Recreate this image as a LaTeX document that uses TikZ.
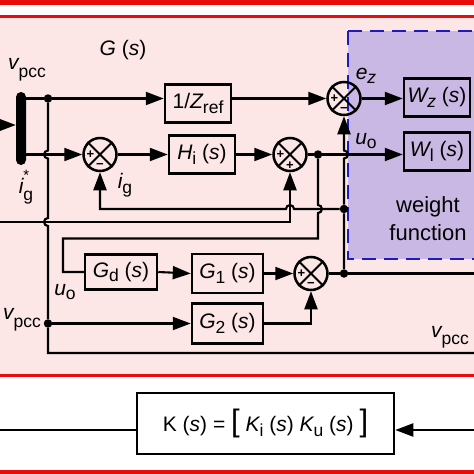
\documentclass[tikz,border=0pt]{standalone}
\usepackage{fontspec}
\setmainfont{Liberation Sans}
\usetikzlibrary{arrows.meta,calc}
\definecolor{pinkbg}{RGB}{252,230,230}
\definecolor{purp}{RGB}{201,184,227}
\definecolor{redl}{RGB}{232,12,12}
\definecolor{blued}{RGB}{28,28,190}
\newcommand{\sbs}[2][0.22em]{\raisebox{-#1}{\fontsize{17.5}{17.5}\selectfont #2}}
\newcommand{\iv}[1]{{\itshape #1}}
\newcommand{\sumj}[4]{%
  \node[sumn] (#1) at (#2) {};
  \draw[line width=2pt] (#1.45) -- (#1.225) (#1.135) -- (#1.315);
  \node[sgn] at ($(#1.center)+(-9.5,0)$) {#3};
  \node[sgn] at ($(#1.center)+(0,11)$) {#4};
}
\begin{document}
\begin{tikzpicture}[x=1pt,y=-1pt,
  ln/.style={line width=2.1pt},
  arr/.style={line width=2.1pt,-{Triangle[length=18pt,width=13pt]}},
  blk/.style={draw,line width=2.5pt,minimum width=66pt,minimum height=38pt,inner sep=0pt,font=\fontsize{21}{21}\selectfont},
  sumn/.style={circle,draw,line width=2.5pt,minimum size=33pt,inner sep=0pt},
  dotn/.style={circle,fill=black,minimum size=8.5pt,inner sep=0pt},
  muxbar/.style={fill=black,rounded corners=5pt,minimum width=10pt,minimum height=73pt,inner sep=0pt},
  lbl/.style={inner sep=0pt,font=\fontsize{21}{21}\selectfont},
  sgn/.style={inner sep=0pt,font=\fontsize{13}{13}\selectfont\bfseries}]
\useasboundingbox (0,0) rectangle (474,474);
\clip (0,0) rectangle (474,474);
% background
\fill[white] (0,0) rectangle (474,474);
\fill[redl] (0,0) rectangle (474,4.5);
\fill[pinkbg] (0,17.5) rectangle (474,374.5);
\draw[redl,line width=2.2pt] (0,16.5) -- (474,16.5);
\draw[redl,line width=2.5pt] (0,375.5) -- (474,375.5);
\fill[redl] (0,469.5) rectangle (474,474);
\draw[blued,fill=purp,line width=2.5pt,dash pattern=on 14pt off 8pt] (348,31) rectangle (490,259);

% nodes
\node[muxbar] (mux) at (21,128.5) {};
\node[dotn] (d1) at (48,98.5) {};
\node[blk] (zref) at (198,103.5) {1/\iv{Z}\sbs{ref}};
\sumj{sez}{344,98.5}{+}{−}
\node[blk] (wz) at (437,97.5) {\iv{W}\sbs{\iv{z}} (\iv{s})};
\sumj{s1}{100,154.5}{+}{−}
\node[blk] (hi) at (202,154.5) {\iv{H}\sbs{i} (\iv{s})};
\sumj{s2}{290,154.5}{+}{+}
\node[dotn] (d2) at (318,154.5) {};
\node[blk] (wl) at (437,151.5) {\iv{W}\sbs{l} (\iv{s})};
\node[dotn] (d3) at (344,209) {};
\node[dotn] (d4) at (344,273.5) {};
\sumj{s3}{311,273.5}{+}{−}
\node[blk,minimum width=72pt,minimum height=35pt] (gd) at (121,272) {\iv{G}\sbs{d} (\iv{s})};
\node[blk,minimum width=71pt,minimum height=39pt] (g1) at (227.5,273.5) {\iv{G}\sbs{1} (\iv{s})};
\node[blk,minimum width=71pt,minimum height=40pt] (g2) at (227.5,323.5) {\iv{G}\sbs{2} (\iv{s})};
\node[dotn] (d5) at (48,323.5) {};
\node[blk,minimum width=257pt,minimum height=61pt] (kbox) at (265.5,423.5)
  {K (\iv{s}) = {\fontsize{31}{31}\selectfont[} \iv{K}\sbs{i} (\iv{s}) \iv{K}\sbs{u} (\iv{s}) {\fontsize{31}{31}\selectfont]}};

\coordinate (inL) at (0,125);
\coordinate (h2L) at (0,222);
\coordinate (uoc) at (63,238.5);
\coordinate (uout) at (474,273.5);
\coordinate (vout) at (474,353);
\coordinate (kL) at (0,430);
\coordinate (kR) at (474,430);

% labels
\node[lbl] (Gs) at (123,50) {\iv{G} (\iv{s})};
\node[lbl] (vp1) at (27,70) {\iv{v}\sbs[0.4em]{pcc}};
\node[lbl] (igs) at (26,187) {\iv{i}\rlap{\raisebox{0.62em}{\fontsize{15}{15}\selectfont *}}\sbs[0.3em]{g}};
\node[lbl] (ig) at (125,185) {\iv{i}\sbs{g}};
\node[lbl] (ez) at (366,76) {\iv{e}\sbs{\iv{z}}};
\node[lbl] (uo1) at (366,141) {\iv{u}\sbs{o}};
\node[lbl] (uo2) at (65,292) {\iv{u}\sbs{o}};
\node[lbl] (vp2) at (22,320) {\iv{v}\sbs[0.4em]{pcc}};
\node[lbl] (vp3) at (450,337) {\iv{v}\sbs[0.35em]{pcc}};
\node[lbl,font=\fontsize{22}{28}\selectfont,align=center] (wf) at (428,219) {weight\\function};

% connectors
\draw[arr] (inL) -- (mux.west |- inL);
\draw[ln] (mux.east |- d1) -- (d1);
\draw[arr] (d1) -- (zref.west |- d1);
\draw[arr] (zref.east |- d1) -- (sez.west);
\draw[arr] (sez.east) -- (wz.west |- sez);
\draw[arr] (mux.east |- s1) -- (s1.west);
\draw[arr] (s1.east) -- (hi.west);
\draw[arr] (hi.east) -- (s2.west);
\draw[ln] (s2.east) -- (d2);
\draw[arr] (d2) -- (wl.west |- d2);
\draw[arr] (d4) -- (d3) -- ($(d3 |- d2)+(0,4)$) arc[start angle=-90,end angle=90,radius=4pt] -- (sez.south);
\draw[arr] (d3) -- ($(s2 |- d3)+(4,0)$) arc[start angle=0,end angle=180,radius=4pt] -- (s1 |- d3) -- (s1.south);
\draw[ln] (d2) -- ($(d2 |- d3)+(0,-4)$) arc[start angle=90,end angle=-90,radius=4pt] -- (d2 |- uoc) -- (uoc) -- (uoc |- gd) -- (gd.west);
\draw[arr] (h2L) -- (s2 |- h2L) -- (s2.south);
\draw[ln] (d1) -- ($(d1 |- s1)+(0,-4)$) arc[start angle=90,end angle=270,radius=4pt] -- ($(d1 |- h2L)+(0,-4)$) arc[start angle=90,end angle=270,radius=4pt] -- (d5) -- (d5 |- vout) -- (vout);
\draw[arr] (d5) -- (g2.west);
\draw[arr] (gd.east) -- (g1.west);
\draw[arr] (g1.east) -- (s3.west);
\draw[arr] (g2.east) -- (s3 |- g2) -- (s3.south);
\draw[ln] (s3.east) -- (d4) -- (uout);
\draw[ln] (kL) -- (kbox.west |- kL);
\draw[arr] (kR) -- (kbox.east |- kR);
\end{tikzpicture}
\end{document}
